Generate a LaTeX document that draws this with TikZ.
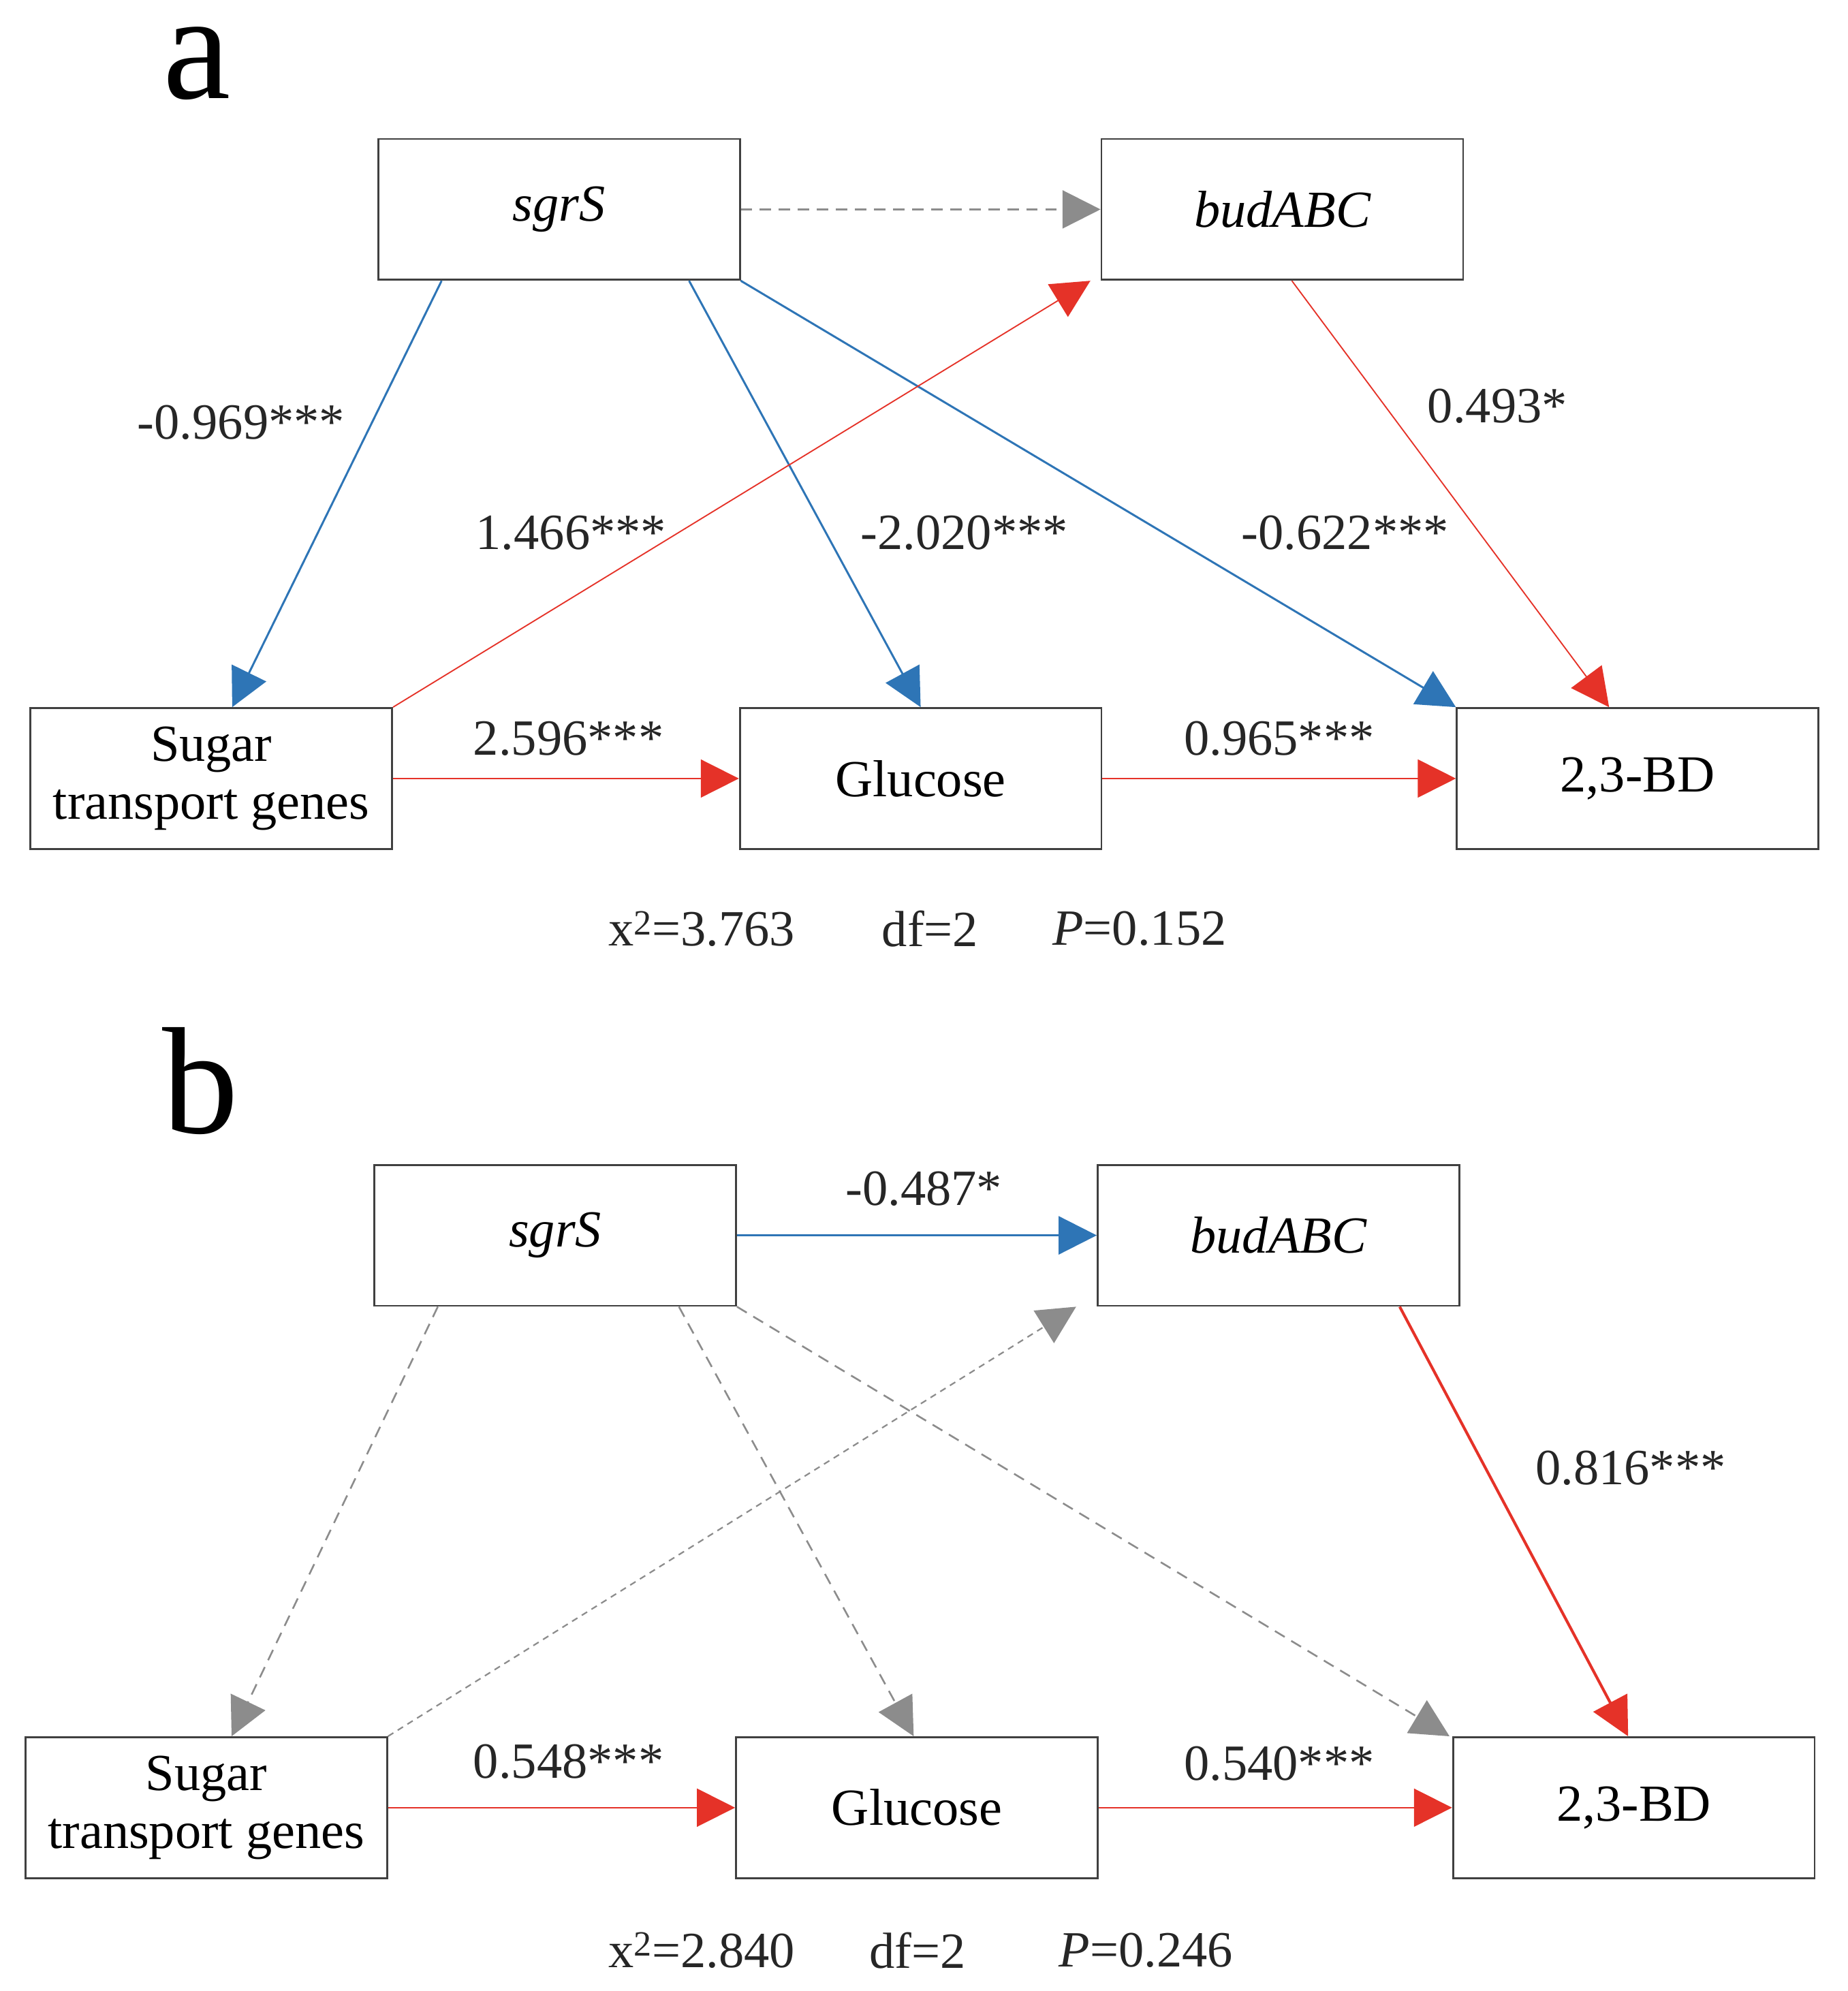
\documentclass[tikz,border=0pt]{standalone}
\usepackage{fontspec}
\setmainfont{Liberation Serif}
\usetikzlibrary{arrows.meta}
\definecolor{bl}{HTML}{2E75B6}
\definecolor{rd}{HTML}{E53228}
\definecolor{gr}{HTML}{8C8C8C}
\begin{document}
\begin{tikzpicture}[x=1pt,y=-1pt,
 box/.style={draw=black!75,line width=1.5pt,minimum width=285pt,minimum height=111pt,inner sep=0pt,font=\fontsize{41}{46}\selectfont,align=center},
 lab/.style={font=\fontsize{40}{42}\selectfont,text=black!85},
 tip/.style={-{Triangle[length=30pt,width=30pt]}},
 B/.style={tip,draw=bl,line width=1.6pt,bl},
 R/.style={tip,draw=rd,line width=1pt,rd},
 RT/.style={tip,draw=rd,line width=2.2pt,rd},
 G/.style={tip,draw=gr,line width=1.4pt,gr,dash pattern=on 9pt off 6pt},
 GD/.style={tip,draw=gr,line width=1.2pt,gr,dash pattern=on 5pt off 4pt}]
\useasboundingbox (0,0) rectangle (1456,1569);
\node[font=\fontsize{120}{120}\selectfont,inner sep=0pt] (la) at (155,50) {a};
\node[font=\fontsize{120}{120}\selectfont,inner sep=0pt] (lb) at (158,852) {b};
% panel a
\node[box] (sa) at (440.5,165) {\itshape sgrS};
\node[box] (ba) at (1010.5,165) {\itshape budABC};
\node[box] (ua) at (166.5,613.5) {Sugar\\transport genes};
\node[box] (ga) at (725.5,613.5) {Glucose};
\node[box] (da) at (1290.5,613.5) {2,3-BD};
\draw[G] (sa.east) -- (ba.west);
\draw[B] ([xshift=-92.5pt]sa.south) -- ([xshift=16.5pt]ua.north);
\draw[B] ([xshift=102.5pt]sa.south) -- (ga.north);
\draw[B] (sa.south east) -- (da.north west);
\draw[R] (ua.north east) -- ([xshift=-8pt]ba.south west);
\draw[R] ([xshift=7.5pt]ba.south) -- ([xshift=-22.5pt]da.north);
\draw[R] (ua.east) -- (ga.west);
\draw[R] (ga.east) -- (da.west);
\node[lab] (a1) at (190,333) {-0.969***};
\node[lab] (a2) at (450,420) {1.466***};
\node[lab] (a3) at (760,420) {-2.020***};
\node[lab] (a4) at (1060,420) {-0.622***};
\node[lab] (a5) at (1180,320) {0.493*};
\node[lab] (a6) at (448,582) {2.596***};
\node[lab] (a7) at (1008,582) {0.965***};
\node[lab] (as1) at (553,732) {x\textsuperscript{2}=3.763};
\node[lab] (as2) at (733,732) {df=2};
\node[lab] (as3) at (898,732) {\textit{P}=0.152};
% panel b
\node[box] (sb) at (437.5,973.5) {\itshape sgrS};
\node[box] (bb) at (1007.5,973.5) {\itshape budABC};
\node[box] (ub) at (162.5,1424.5) {Sugar\\transport genes};
\node[box] (gb) at (722.5,1424.5) {Glucose};
\node[box] (db) at (1287.5,1424.5) {2,3-BD};
\draw[B] (sb.east) -- (bb.west);
\draw[G] ([xshift=-92.5pt]sb.south) -- ([xshift=20pt]ub.north);
\draw[G] ([xshift=97.5pt]sb.south) -- ([xshift=-2.5pt]gb.north);
\draw[G] (sb.south east) -- ([xshift=-2pt]db.north west);
\draw[GD] (ub.north east) -- ([xshift=-159.5pt]bb.south);
\draw[RT] ([xshift=95.5pt]bb.south) -- ([xshift=-4.5pt]db.north);
\draw[R] (ub.east) -- (gb.west);
\draw[R] (gb.east) -- (db.west);
\node[lab] (b1) at (728,937) {-0.487*};
\node[lab] (b2) at (1285,1157) {0.816***};
\node[lab] (b3) at (448,1388) {0.548***};
\node[lab] (b4) at (1008,1390) {0.540***};
\node[lab] (bs1) at (553,1537) {x\textsuperscript{2}=2.840};
\node[lab] (bs2) at (723,1537) {df=2};
\node[lab] (bs3) at (903,1537) {\textit{P}=0.246};
\end{tikzpicture}
\end{document}
